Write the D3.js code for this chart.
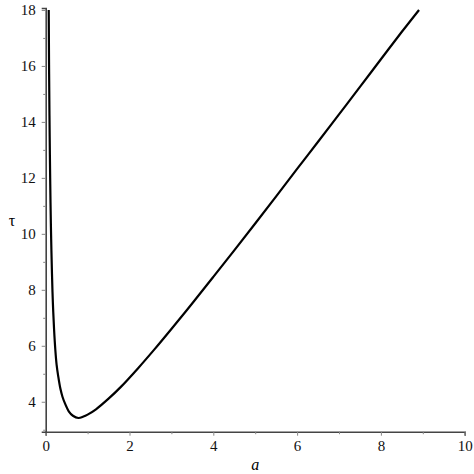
<!DOCTYPE html>
<html>
<head>
<meta charset="utf-8">
<script src="https://cdn.jsdelivr.net/npm/d3@7"></script>
<style>
  html, body { margin: 0; padding: 0; background: #fff; }
  svg { display: block; }
  svg text { font-family: "Liberation Serif", "Times New Roman", Times, serif !important; }
</style>
</head>
<body>
<svg id="chart" width="474" height="474"></svg>
<script>
// Data (a, tau)
const aValues = [0.072, 0.08, 0.09, 0.10, 0.115, 0.13, 0.15, 0.17, 0.20, 0.23, 0.26, 0.30, 0.35, 0.40, 0.46, 0.55, 0.65, 0.78, 0.9, 1.0, 1.2, 1.5, 1.8, 2.2, 2.6, 3.0, 3.5, 4.0, 4.5, 5.0, 5.5, 6.0, 6.5, 7.0, 7.5, 8.0, 8.5, 8.91];
const tauValues = [18.0, 16.04, 14.24, 12.8, 11.1, 9.84, 8.57, 7.58, 6.58, 5.85, 5.33, 4.9, 4.47, 4.18, 3.94, 3.66, 3.5, 3.42, 3.47, 3.54, 3.73, 4.11, 4.54, 5.19, 5.88, 6.6, 7.52, 8.46, 9.41, 10.37, 11.34, 12.32, 13.29, 14.27, 15.25, 16.24, 17.22, 18.0];
const xMajorTicks = [0, 2, 4, 6, 8, 10];
const xMinorTicks = [1, 3, 5, 7, 9];
const yMajorTicks = [4, 6, 8, 10, 12, 14, 16, 18];
const yMinorTicks = [3, 5, 7, 9, 11, 13, 15, 17];
const xLabel = "a";
const yLabel = "τ";

const svg = d3.select("#chart");
const x = d3.scaleLinear().domain([0, 10]).range([45.7, 464.7]);
const y = d3.scaleLinear().domain([2.93, 18.07]).range([431.7, 8]);

const axisColor = "#444";

// x axis
const gx = svg.append("g").attr("transform", `translate(0,${y(2.93)})`);
gx.call(d3.axisBottom(x).tickValues(xMajorTicks).tickSize(4).tickPadding(5).tickFormat(d3.format("d")));
gx.append("g").call(d3.axisBottom(x).tickValues(xMinorTicks).tickSize(2.5).tickFormat(""))
  .select(".domain").remove();
gx.selectAll(".domain").attr("stroke", axisColor).attr("stroke-width", 1.6);
gx.selectAll(".tick line").attr("stroke", "#888").attr("stroke-width", 1);

// y axis
const gy = svg.append("g").attr("transform", `translate(${x(0)},0)`);
gy.call(d3.axisLeft(y).tickValues(yMajorTicks).tickSize(4).tickPadding(6).tickFormat(d3.format("d")));
gy.append("g").call(d3.axisLeft(y).tickValues(yMinorTicks).tickSize(2.5).tickFormat(""))
  .select(".domain").remove();
gy.selectAll(".domain").attr("stroke", axisColor).attr("stroke-width", 1.6);
gy.selectAll(".tick line").attr("stroke", "#888").attr("stroke-width", 1);

svg.selectAll(".tick text")
  .attr("font-size", 15)
  .attr("fill", "#111");

// axis labels
svg.append("text")
  .attr("x", (x(0) + x(10)) / 2).attr("y", 470)
  .attr("text-anchor", "middle")
  .attr("font-style", "italic").attr("font-size", 16)
  .text(xLabel);
svg.append("text")
  .attr("x", 12).attr("y", 226)
  .attr("text-anchor", "middle")
  .attr("font-size", 16)
  .text(yLabel);

// curve
const data = aValues.map((a, i) => ({ a, t: tauValues[i] }));
svg.append("path")
  .datum(data)
  .attr("fill", "none")
  .attr("stroke", "#000")
  .attr("stroke-width", 2.2)
  .attr("stroke-linejoin", "round")
  .attr("d", d3.line().x(d => x(d.a)).y(d => y(d.t)).curve(d3.curveCatmullRom.alpha(0.5)));
</script>
</body>
</html>
